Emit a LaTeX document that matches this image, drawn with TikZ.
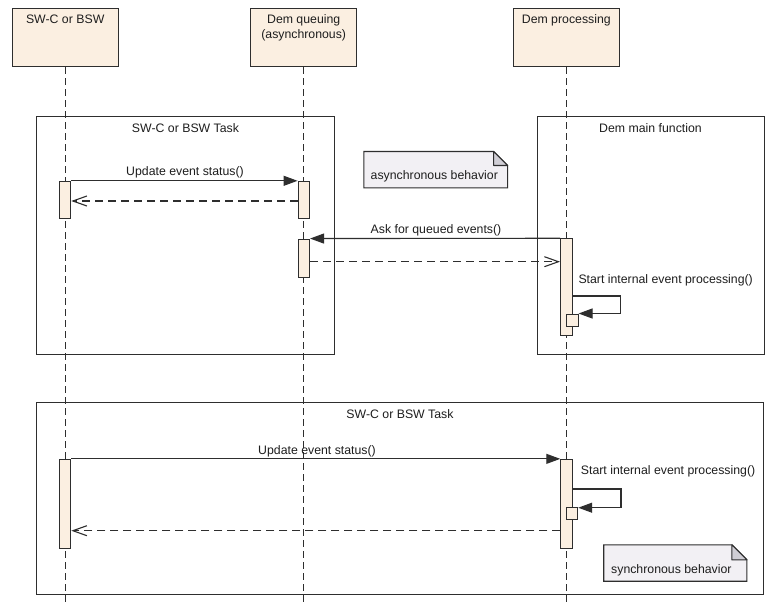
\documentclass[tikz,border=0pt]{standalone}
\usepackage{fontspec}
\setmainfont{Liberation Sans}
\usetikzlibrary{arrows.meta,calc}
\definecolor{headfill}{HTML}{FBEFE1}
\definecolor{notefill}{HTML}{F2F0F4}
\definecolor{foldfill}{HTML}{D0CED5}
\definecolor{ln}{HTML}{2E2E2E}
\definecolor{tx}{HTML}{1E1E1E}
\tikzset{
  head/.style={draw=ln, fill=headfill, line width=1.1pt, minimum width=106pt, minimum height=58.5pt, inner sep=0pt},
  bar/.style={draw=ln, fill=headfill, line width=1pt, minimum width=11.5pt, inner sep=0pt},
  framebox/.style={draw=ln, line width=1.1pt, inner sep=0pt},
  life/.style={draw=ln, line width=1.1pt, dash pattern=on 7pt off 4pt},
  msg/.style={draw=ln, line width=1.1pt, line join=miter, -{Triangle[length=14pt,width=10pt]}},
  ret/.style={draw=ln, line width=1.1pt, dash pattern=on 8pt off 5pt, -{Straight Barb[length=14pt,width=10pt]}},
  lbl/.style={anchor=base, inner sep=0pt, text=tx, font=\fontsize{12.3}{16}\selectfont},
  lblw/.style={lbl, anchor=base west},
  notebox/.style={inner sep=0pt}
}
\begin{document}
\begin{tikzpicture}[x=1pt,y=-1pt]
\useasboundingbox (0,0) rectangle (778,606);
\fill[white] (0,0) rectangle (778,606);

% heads
\node[head] (h1) at (65.2,37.5) {};
\node[head] (h2) at (303.7,37.5) {};
\node[head] (h3) at (566.3,37.5) {};
\node[lbl] (t1) at (65.2,23) {SW-C or BSW};
\node[lbl] (t2a) at (303.7,23) {Dem queuing};
\node[lbl] (t2b) at (303.7,38) {(asynchronous)};
\node[lbl] (t3) at (566.3,23) {Dem processing};

% lifelines
\coordinate (bot) at (0,602);
\draw[life] (h1.south) -- (h1.south |- bot);
\draw[life] (h2.south) -- (h2.south |- bot);
\draw[life] (h3.south) -- (h3.south |- bot);

% frames
\node[framebox, minimum width=297.3pt, minimum height=238.3pt] (f1) at (185.5,235.2) {};
\node[framebox, minimum width=227pt, minimum height=238.3pt] (f2) at (650.8,235.2) {};
\node[framebox, minimum width=726.6pt, minimum height=192pt] (f3) at (400,498.3) {};
\node[lbl] (ft1) at (185.5,132) {SW-C or BSW Task};
\node[lbl] (ft2) at (650.5,132) {Dem main function};
\node[lbl] (ft3) at (400,418) {SW-C or BSW Task};

% note 1
\node[notebox, minimum width=143.3pt, minimum height=36pt] (n1) at (435.7,169.7) {};
\path[draw=ln, line width=1.1pt, fill=notefill]
  (n1.north west) -- ($(n1.north east)+(-14,0)$) -- ($(n1.north east)+(0,14)$)
  -- (n1.south east) -- (n1.south west) -- cycle;
\path[draw=ln, line width=1.1pt, fill=foldfill, line join=round]
  ($(n1.north east)+(-14,0)$) -- ($(n1.north east)+(-14,14)$) -- ($(n1.north east)+(0,14)$) -- cycle;
\node[lblw] (nt1) at (370.5,179) {asynchronous behavior};

% note 2
\node[notebox, minimum width=142.7pt, minimum height=36pt] (n2) at (675.3,563) {};
\path[draw=ln, line width=1.1pt, fill=notefill]
  (n2.north west) -- ($(n2.north east)+(-15,0)$) -- ($(n2.north east)+(0,15)$)
  -- (n2.south east) -- (n2.south west) -- cycle;
\path[draw=ln, line width=1.1pt, fill=foldfill, line join=round]
  ($(n2.north east)+(-15,0)$) -- ($(n2.north east)+(-15,15)$) -- ($(n2.north east)+(0,15)$) -- cycle;
\node[lblw] (nt2) at (611,573) {synchronous behavior};

% activation bars
\node[bar, minimum height=37.4pt] (b1) at (65,200) {};
\node[bar, minimum height=37.4pt] (b2) at (303.8,200) {};
\node[bar, minimum height=38.7pt] (b3) at (303.8,258.4) {};
\node[bar, minimum height=96.3pt] (b4) at (566.3,286.9) {};
\node[bar, minimum width=11.3pt, minimum height=12pt] (s1) at (572.4,320) {};
\node[bar, minimum height=88.7pt] (b5) at (65,503.7) {};
\node[bar, minimum height=88.7pt] (b6) at (566.5,503.7) {};
\node[bar, minimum width=11pt, minimum height=11.6pt] (s2) at (572.2,513.5) {};

% messages, first frame
\draw[msg] (b1.north east) -- (b2.north west);
\node[lbl] (m1) at (185,175.3) {Update event status()};
\coordinate (y2) at (0,201);
\draw[ret] (b2.west |- y2) -- (b1.east |- y2);

\draw[msg] (b4.north west) -- (b3.north east);
\node[lbl] (m3) at (436,233.3) {Ask for queued events()};
\coordinate (y4) at (0,261.7);
\draw[ret] (b3.east |- y4) -- (b4.west |- y4);

\node[lblw] (m5) at (578.3,283.3) {Start internal event processing()};
\coordinate (c1) at (620.5,296);
\coordinate (c2) at (620.5,313.5);
\draw[msg] (b4.east |- c1) -- (c1) -- (c2) -- (s1.east |- c2);

% messages, second frame
\draw[msg] (b5.north east) -- (b6.north west);
\node[lbl] (m6) at (317,454.3) {Update event status()};
\node[lblw] (m7) at (580.7,474) {Start internal event processing()};
\coordinate (d1) at (621,489);
\coordinate (d2) at (621,507.7);
\draw[msg] (b6.east |- d1) -- (d1) -- (d2) -- (s2.east |- d2);
\coordinate (y8) at (0,530.7);
\draw[ret] (b6.west |- y8) -- (b5.east |- y8);
\end{tikzpicture}
\end{document}
